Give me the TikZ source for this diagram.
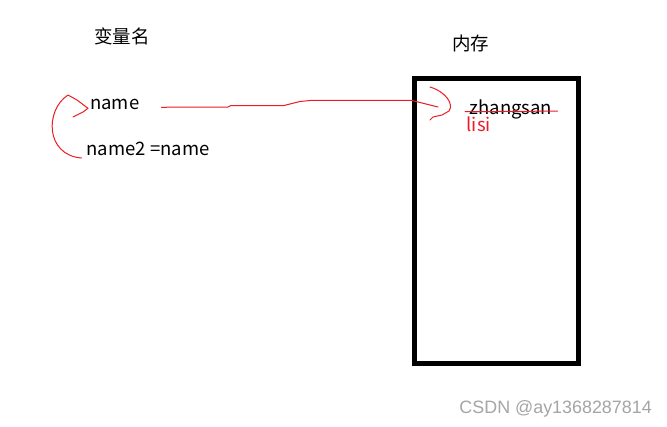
\documentclass[tikz,border=0pt]{standalone}
\usepackage{fontspec}
\setmainfont{Noto Sans CJK SC}
\newfontfamily\wmfont{Liberation Sans}
\definecolor{pen}{RGB}{237,28,36}
\definecolor{wm}{RGB}{165,165,165}
\begin{document}
\begin{tikzpicture}[x=1pt,y=-1pt,
    txt/.style={inner sep=0pt, font=\fontsize{18.5}{22}\selectfont},
    redline/.style={pen, line width=1pt, line join=round, line cap=round},
    membox/.style={draw, line width=5pt, minimum width=164pt, minimum height=284.5pt, inner sep=0pt}]
    \useasboundingbox[fill=white] (0,0) rectangle (667,426);

    %titles
    \node[txt, anchor=west] (vartitle) at (94,36.5) {变量名};
    \node[txt, anchor=west] (memtitle) at (452,43.5) {内存};

    %memory
    \node[membox] (mem) at (496.5,220.75) {};
    \node[txt, anchor=base west] (zhangsan) at (469.5,114.3) {zhangsan};
    \node[txt, anchor=base west, pen] (lisi) at (466.5,131) {lisi};
    \draw[redline] ([shift={(-4.5,-2.6)}]zhangsan.base west) -- ([shift={(5,-3.2)}]zhangsan.base east);

    %variables
    \node[txt, anchor=base west] (name) at (90,109.3) {name};
    \node[txt, anchor=base west] (name2) at (86.5,155) {name2 =name};

    %name2 -> name
    \coordinate (nametip) at ([shift={(-2,4)}]name.west);
    \draw[redline] ([shift={(-5,3)}]name2.base west) .. controls (45,155) and (45,110) .. (68,95)
        -- (77,100) -- (nametip) -- (83,112) -- (73,117);

    %name -> memory
    \coordinate (memtip) at (438,107);
    \draw[redline] ([shift={(22,3)}]name.east) -- (228,107) -- (231,105.5) -- (284,105.5)
        -- (300,101.5) -- (312,100.3) -- (411,100.3) -- (418,102) -- (memtip);
    \draw[redline] (430,87) .. controls (446,92) and (454,104) .. (449,111)
        -- (442,115) -- (433,117) -- (430,120);

    %watermark
    \node[anchor=base east, inner sep=0pt, wm, font=\wmfont\fontsize{17.9}{20}\selectfont] (csdn) at (652,413.5) {CSDN @ay1368287814};
\end{tikzpicture}
\end{document}
